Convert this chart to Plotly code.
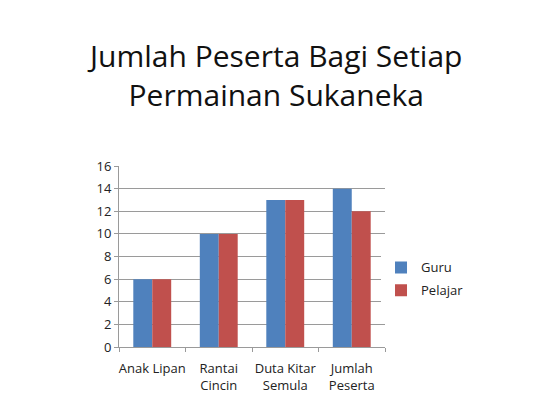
import plotly.graph_objects as go

categories = ["Anak Lipan", "Rantai<br>Cincin", "Duta Kitar<br>Semula", "Jumlah<br>Peserta"]
guru = [6, 10, 13, 14]
pelajar = [6, 10, 13, 12]
y_ticks = [0, 2, 4, 6, 8, 10, 12, 14, 16]

FONT = "'Open Sans', 'Noto Sans', sans-serif"

fig = go.Figure()
fig.add_trace(go.Bar(name="Guru", x=categories, y=guru, legendgroup="g",
                     marker=dict(color="#4F81BD", line=dict(width=0))))
fig.add_trace(go.Bar(name="Pelajar", x=categories, y=pelajar, legendgroup="p",
                     marker=dict(color="#C0504D", line=dict(width=0))))

fig.update_layout(
    width=560, height=420,
    barmode="group", bargap=0.43, bargroupgap=0,
    paper_bgcolor="white", plot_bgcolor="white",
    margin=dict(l=111, r=183, t=158, b=81, autoexpand=False),
    font=dict(family=FONT, size=12, color="#222222"),
    title=dict(
        text="Jumlah Peserta Bagi Setiap<br>Permainan Sukaneka",
        x=0.479, xref="container", xanchor="center",
        y=0.86, yref="container", yanchor="middle",
        font=dict(family=FONT, size=30, color="#111111"),
    ),
    legend=dict(
        x=0.985, y=0.376, xanchor="left", yanchor="middle",
        font=dict(family=FONT, size=13, color="#222222"),
        itemwidth=30, tracegroupgap=3,
    ),
    showlegend=True,
)
fig.update_xaxes(
    showline=True, linecolor="#9a9a9a", linewidth=1,
    ticks="outside", tickson="boundaries", ticklen=4, tickcolor="#9a9a9a",
    showgrid=False, tickfont=dict(size=13), tickangle=0, ticklabelstandoff=9,
)
fig.update_yaxes(
    range=[0, 16], tickvals=y_ticks,
    showline=True, linecolor="#9a9a9a", linewidth=1,
    ticks="outside", ticklen=4, tickcolor="#9a9a9a",
    showgrid=True, gridcolor="#9a9a9a", gridwidth=1,
    zeroline=False, tickfont=dict(size=13),
)
fig.write_html("out.html")
